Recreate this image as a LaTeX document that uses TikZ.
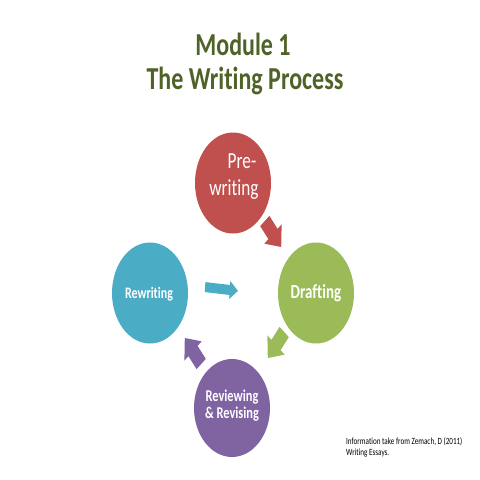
\documentclass[tikz,border=0pt]{standalone}
\usepackage{fontspec}
\setmainfont{Carlito}[FakeStretch=0.75, RawFeature={-liga;-clig;-calt;-dlig}]
\definecolor{titlegreen}{HTML}{4F6228}
\definecolor{cred}{HTML}{C0504D}
\definecolor{cgreen}{HTML}{9BBB59}
\definecolor{cpurple}{HTML}{8064A2}
\definecolor{cteal}{HTML}{4BACC6}
\newcommand\nti{t\kern0pt i}
\newcommand\blockarr[8]{%
 \begin{scope}[shift={(#1,#2)}, xscale=0.75, rotate=#3]
 \fill[#8] ({-#4/2},{#6}) -- ({#4/2-#7},{#6}) -- ({#4/2-#7},{#5}) -- ({#4/2},0) -- ({#4/2-#7},{-#5}) -- ({#4/2-#7},{-#6}) -- ({-#4/2},{-#6}) -- cycle;
 \end{scope}}
\tikzset{
  blob/.style={ellipse, draw=none, minimum width=76pt, minimum height=101pt, inner sep=0pt},
  lbl/.style={text=white, anchor=base, align=center, inner sep=0pt},
  ttl/.style={text=titlegreen, anchor=base, inner sep=0pt, font=\fontsize{32}{35}\selectfont\bfseries},
}
\usetikzlibrary{shapes.geometric}
\begin{document}
\begin{tikzpicture}[x=1pt,y=-1pt]
\useasboundingbox[fill=white] (0,0) rectangle (480,480);
% title
\node[ttl] (t1) at (243,55) {Module 1};
\node[ttl] (t2) at (245,89) {The Wri\nti ng Process};
% circles
\node[blob, fill=cred] (pre) at (233,183) {};
\node[blob, fill=cteal] (rew) at (150,293) {};
\node[blob, fill=cgreen] (dra) at (316,293) {};
\node[blob, fill=cpurple, minimum height=98pt] (rev) at (232,408) {};
% labels
\node[lbl, font=\fontsize{23}{27}\selectfont] (prea) at (242,168) {Pre-};
\node[lbl, font=\fontsize{23}{27}\selectfont] (preb) at (234,195) {wri\nti ng};
\node[lbl, font=\fontsize{16}{18}\selectfont\bfseries] (rewl) at (149,298) {Rewri\nti ng};
\node[lbl, font=\fontsize{20}{22}\selectfont\bfseries] (dral) at (316,298) {Draf\nti ng};
\node[lbl, font=\fontsize{16.5}{18}\selectfont\bfseries] (reva) at (232,401) {Reviewing};
\node[lbl, font=\fontsize{16.5}{18}\selectfont\bfseries] (revb) at (232,418) {\& Revising};
% arrows
\blockarr{273}{234}{-50}{34}{15}{8}{17}{cred}
\blockarr{276}{345}{-130}{34}{15}{8}{17}{cgreen}
\blockarr{193}{351}{130}{34}{15}{8}{17}{cpurple}
\blockarr{221.5}{289}{-5}{44}{9}{5}{11}{cteal}
% note
\node[anchor=base west, inner sep=0pt, align=left, font=\fontsize{9.5}{11}\selectfont] (note) at (346,455) {Information take from Zemach, D (2011)\\Wri\nti ng Essays.};
\end{tikzpicture}
\end{document}
